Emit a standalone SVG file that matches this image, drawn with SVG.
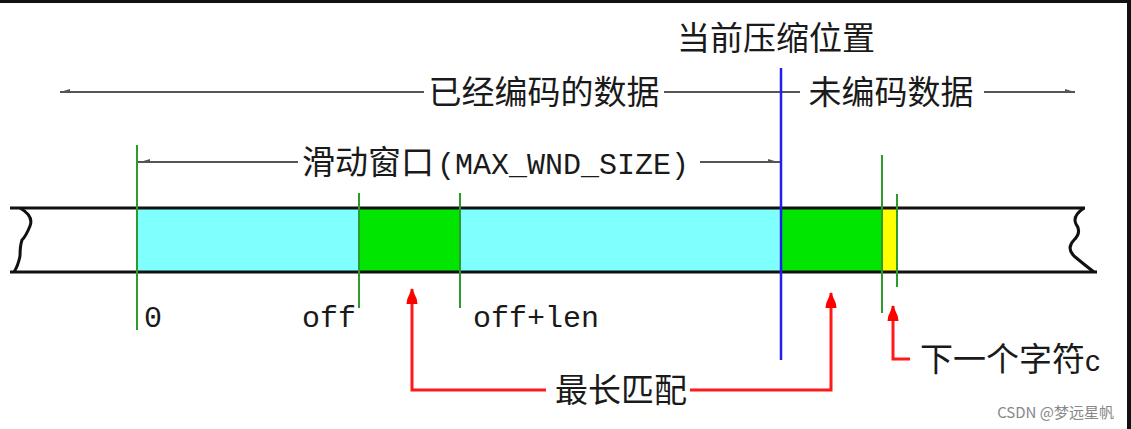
<svg xmlns="http://www.w3.org/2000/svg" width="1131" height="429" viewBox="0 0 1131 429">
<defs>
<marker id="redhead" markerWidth="16" markerHeight="12" refX="15" refY="6" orient="auto-start-reverse" markerUnits="userSpaceOnUse" viewBox="0 0 16 12">
<path d="M16,6 L10,3.5 Q6,1 0,0.5 L0,11.5 Q6,11 10,8.5 Z" fill="#ff0000"/>
</marker>
</defs>
<style>
.cjk{font-family:"Noto Sans CJK SC","Noto Sans",sans-serif;font-size:33px;fill:#1a1a1a}
.mono{font-family:"Liberation Mono","DejaVu Sans Mono",monospace;font-size:30px;fill:#1a1a1a}
.dim{stroke:#555;stroke-width:2;fill:none}
.gl{stroke:#2e9a2e;stroke-width:2}
.red{stroke:#ff1a1a;stroke-width:3;fill:none}
.edge{stroke:#111;stroke-width:3;fill:none}
</style>
<rect x="0" y="0" width="1131" height="429" fill="#ffffff"/>
<rect x="0" y="0" width="1131" height="3" fill="#111"/>
<rect x="1127" y="0" width="4" height="429" fill="#111"/>

<g id="bar">
<rect x="137" y="208" width="222" height="64" fill="#80ffff"/>
<rect x="359" y="208" width="101" height="64" fill="#00e600"/>
<rect x="460" y="208" width="321" height="64" fill="#80ffff"/>
<rect x="781" y="208" width="101" height="64" fill="#00e600"/>
<rect x="882" y="208" width="15" height="64" fill="#ffff00"/>
<line class="edge" x1="10" y1="208" x2="1085" y2="208"/>
<line class="edge" x1="10" y1="272" x2="1097" y2="272"/>
<path class="edge" stroke-width="2" d="M20,208 Q34,216 30,226 Q26,236 22,240 Q20,246 20,256 Q18,266 14,272"/>
<path class="edge" stroke-width="2" d="M1084,208 Q1072,216 1076,224 Q1082,232 1074,240 Q1066,248 1074,256 Q1086,266 1094,272"/>
</g>

<g id="top-label">
<text class="cjk" x="776" y="50" text-anchor="middle">当前压缩位置</text>
</g>

<g id="encoded">
<line class="dim" x1="60" y1="92" x2="424" y2="92"/>
<line class="dim" x1="664" y1="92" x2="800" y2="92"/>
<path d="M60,92 L70,89 L70,92 Z" fill="#555"/>
<text class="cjk" x="544" y="104" text-anchor="middle">已经编码的数据</text>
</g>

<g id="unencoded">
<line class="dim" x1="984" y1="92" x2="1075" y2="92"/>
<path d="M1075,92 L1065,89 L1065,92 Z" fill="#555"/>
<text class="cjk" x="891" y="104" text-anchor="middle">未编码数据</text>
</g>

<g id="window">
<line class="dim" x1="137" y1="162" x2="298" y2="162"/>
<line class="dim" x1="700" y1="162" x2="781" y2="162"/>
<path d="M140,162 L150,159 L150,162 Z" fill="#555"/>
<path d="M778,162 L768,159 L768,162 Z" fill="#555"/>
<text x="302" y="174"><tspan class="cjk">滑动窗口</tspan><tspan class="mono" dx="3">(MAX_WND_SIZE)</tspan></text>
</g>

<g id="markers">
<line class="gl" x1="137" y1="145" x2="137" y2="330"/>
<line class="gl" x1="359" y1="193" x2="359" y2="308"/>
<line class="gl" x1="460" y1="193" x2="460" y2="308"/>
<line class="gl" x1="882" y1="155" x2="882" y2="313"/>
<line class="gl" x1="897" y1="194" x2="897" y2="287"/>
<line stroke="#2020ee" stroke-width="2.5" x1="781" y1="68" x2="781" y2="360"/>
</g>

<g id="index-labels">
<text class="mono" x="144" y="327">0</text>
<text class="mono" x="302" y="327">off</text>
<text class="mono" x="473" y="327">off+len</text>
</g>

<g id="connectors">
<path class="red" d="M412,289 L412,390 L546,390" marker-start="url(#redhead)"/>
<path class="red" d="M690,390 L831,390 L831,293" marker-end="url(#redhead)"/>
<path class="red" d="M893,306 L893,359 L910,359" marker-start="url(#redhead)"/>
</g>

<g id="longest-match">
<text class="cjk" x="621" y="402" text-anchor="middle">最长匹配</text>
</g>

<g id="next-char">
<text x="920" y="371"><tspan class="cjk">下一个字符</tspan><tspan font-family="Liberation Sans, sans-serif" font-size="30" fill="#1a1a1a">c</tspan></text>
</g>

<text x="1114" y="418" text-anchor="end" font-family="Noto Sans CJK SC, sans-serif" font-size="15" fill="#888">CSDN @梦远星帆</text>
</svg>
